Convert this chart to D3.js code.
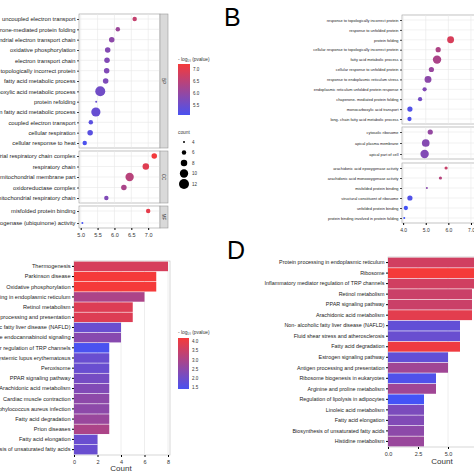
<!DOCTYPE html><html><head><meta charset="utf-8">
<script src="https://cdn.jsdelivr.net/npm/d3@7"></script>
<style>body{margin:0;background:#fff}svg{display:block;font-family:"Liberation Sans",Arial,sans-serif}</style>
</head><body><svg id="c" width="474" height="474"></svg><script>
// Panel A
const aBP=["uncoupled electron transport","chaperone-mediated protein folding","mitochondrial electron transport chain","oxidative phosphorylation","electron transport chain","response to topologically incorrect protein","fatty acid metabolic process","monocarboxylic acid metabolic process","protein refolding","long-chain fatty acid metabolic process","coupled electron transport","cellular respiration","cellular response to heat"];
const aBPv=[6.6,6.1,5.92,5.8,5.78,5.77,5.74,5.58,5.46,5.45,5.3,5.28,5.12];
const aBPn=[6,6,7,7,7,7,7,12,4,11,6,7,6];
const aCC=["mitochondrial respiratory chain complex","respiratory chain","mitochondrial membrane part","oxidoreductase complex","mitochondrial respiratory chain"];
const aCCv=[7.18,6.93,6.45,6.28,5.76];
const aCCn=[7,8,10,7,6];
const aMF=["misfolded protein binding","NADH dehydrogenase (ubiquinone) activity"];
const aMFv=[7.0,5.05];
const aMFn=[6,4];
// Panel B
const bBP=["response to topologically incorrect protein","response to unfolded protein","protein folding","cellular response to topologically incorrect protein","fatty acid metabolic process","cellular response to unfolded protein","response to endoplasmic reticulum stress","endoplasmic reticulum unfolded protein response","chaperone- mediated protein folding","monocarboxylic acid transport","long- chain fatty acid metabolic process"];
const bBPv=[7.6,7.5,6.1,5.55,5.5,5.25,5.1,4.95,4.75,4.3,4.28];
const bBPn=[8,8,8,6,10,6,8,5,5,6,5];
const bCC=["cytosolic ribosome","apical plasma membrane","apical part of cell"];
const bCCv=[5.2,5.0,4.95];
const bCCn=[6,9,10];
const bMF=["arachidonic acid epoxygenase activity","arachidonic acid monooxygenase activity","misfolded protein binding","structural constituent of ribosome","unfolded protein binding","protein binding involved in protein folding"];
const bMFv=[5.9,5.65,5.05,4.3,4.12,4.05];
const bMFn=[4,4,3,6,5,3];
// Panel C
const cCat=["Thermogenesis","Parkinson disease","Oxidative phosphorylation","Protein processing in endoplasmic reticulum","Retinol metabolism","Antigen processing and presentation","Non-alcoholic fatty liver disease (NAFLD)","Retrograde endocannabinoid signaling","Inflammatory mediator regulation of TRP channels","Systemic lupus erythematosus","Peroxisome","PPAR signaling pathway","Arachidonic acid metabolism","Cardiac muscle contraction","Staphylococcus aureus infection","Fatty acid degradation","Prion diseases","Fatty acid elongation","Biosynthesis of unsaturated fatty acids"];
const cCount=[8,7,7,6,5,5,4,4,3,3,3,3,3,3,3,3,3,2,2];
const cP=[3.7,4.2,4.2,3.0,3.8,3.8,1.9,2.4,1.4,1.9,1.9,2.1,2.3,2.5,2.5,2.7,3.0,1.9,1.9];
const cTicks=[0,2,4,6,8];
const cLeg=[4.0,3.5,3.0,2.5,2.0,1.5];
// Panel D
const dCat=["Protein processing in endoplasmic reticulum","Ribosome","Inflammatory mediator regulation of TRP channels","Retinol metabolism","PPAR signaling pathway","Arachidonic acid metabolism","Non- alcoholic fatty liver disease (NAFLD)","Fluid shear stress and atherosclerosis","Fatty acid degradation","Estrogen signaling pathway","Antigen processing and presentation","Ribosome biogenesis in eukaryotes","Arginine and proline metabolism","Regulation of lipolysis in adipocytes","Linoleic acid metabolism","Fatty acid elongation","Biosynthesis of unsaturated fatty acids","Histidine metabolism"];
const dCount=[8,8,8,7,7,7,6,6,6,5,5,4,4,3,3,3,3,3];
const dP=[3.6,4.2,3.6,3.5,3.5,3.9,1.8,1.9,4.1,1.8,2.8,1.5,2.8,1.3,2.2,2.3,2.5,2.7];
const dTicks=[0,2.5,5.0];

const svg=d3.select("#c");
const col=d3.interpolateRgb("#4a52f0","#f53a3a");

function dotPanel(g,x0,x1,panels,xs,ticks,fs){
  panels.forEach(p=>{
    const y=d3.scalePoint().domain(p.cats).range([p.y0+5, p.y1-5]);
    g.append("rect").attr("x",x0).attr("y",p.y0).attr("width",x1-x0).attr("height",p.y1-p.y0).attr("fill","#fff").attr("stroke","#999").attr("stroke-width",0.6);
    ticks.forEach(t=>g.append("line").attr("x1",xs(t)).attr("x2",xs(t)).attr("y1",p.y0).attr("y2",p.y1).attr("stroke","#e8e8e8").attr("stroke-width",0.6));
    p.cats.forEach(c=>g.append("line").attr("x1",x0).attr("x2",x1).attr("y1",y(c)).attr("y2",y(c)).attr("stroke","#e8e8e8").attr("stroke-width",0.6));
    if(p.strip){g.append("rect").attr("x",x1).attr("y",p.y0).attr("width",8).attr("height",p.y1-p.y0).attr("fill","#d9d9d9").attr("stroke","#999").attr("stroke-width",0.6);
      g.append("text").attr("transform",`translate(${x1+4},${(p.y0+p.y1)/2}) rotate(90)`).attr("text-anchor","middle").attr("dy","0.35em").attr("font-size",4.5).attr("fill","#333").text(p.strip);}
    g.append("g").attr("transform",`translate(${x0},0)`).call(d3.axisLeft(y).tickSize(2).tickPadding(1.5)).call(a=>{a.select(".domain").remove();a.selectAll("text").attr("font-size",fs).attr("fill","#222");a.selectAll("line").attr("stroke","#444")});
    p.cats.forEach((c,i)=>g.append("circle").attr("cx",xs(p.v[i])).attr("cy",y(c)).attr("r",p.r(p.n[i])).attr("fill",p.color(p.v[i])));
  });
}

const axA=d3.scaleLinear().domain([4.95,7.35]).range([79,160]);
const rA=d3.scaleSqrt().domain([4,12]).range([1,5]);
const cA=v=>col((v-5.1)/(7.2-5.1));
const gA=svg.append("g");
const aT=[5.0,5.5,6.0,6.5,7.0];
dotPanel(gA,79,160,[
 {cats:aBP,v:aBPv,n:aBPn,y0:14,y1:148,strip:"BP",r:rA,color:cA},
 {cats:aCC,v:aCCv,n:aCCn,y0:151,y1:203,strip:"CC",r:rA,color:cA},
 {cats:aMF,v:aMFv,n:aMFn,y0:206,y1:228,strip:"MF",r:rA,color:cA}],axA,aT,5.8);
gA.append("g").attr("transform","translate(0,228)").call(d3.axisBottom(axA).tickValues(aT).tickFormat(d3.format(".1f")).tickSize(2)).call(a=>{a.select(".domain").remove();a.selectAll("text").attr("font-size",5.5).attr("fill","#333")});
const defs=svg.append("defs");
const gr=defs.append("linearGradient").attr("id","gA").attr("x1",0).attr("x2",0).attr("y1",1).attr("y2",0);
d3.range(0,1.01,0.25).forEach(t=>gr.append("stop").attr("offset",t).attr("stop-color",col(t)));
svg.append("text").attr("x",178).attr("y",61).attr("font-size",4.8).attr("fill","#333").text("- log\u2081\u2080 (pvalue)");
svg.append("rect").attr("x",178).attr("y",64).attr("width",12).attr("height",51).attr("fill","url(#gA)");
const lA=d3.scaleLinear().domain([5.1,7.2]).range([115,64]);
[7.0,6.5,6.0,5.5].forEach(v=>svg.append("text").attr("x",193).attr("y",lA(v)+1.7).attr("font-size",4.5).attr("fill","#333").text(v.toFixed(1)));
svg.append("text").attr("x",178).attr("y",134).attr("font-size",4.8).attr("fill","#333").text("count");
[4,6,8,10,12].forEach((n,i)=>{svg.append("circle").attr("cx",184).attr("cy",142+i*10.5).attr("r",rA(n)).attr("fill","#000");
 svg.append("text").attr("x",192).attr("y",143.7+i*10.5).attr("font-size",4.5).attr("fill","#333").text(n)});

const axB=d3.scaleLinear().domain([3.95,7.4]).range([402,480]);
const rB=d3.scaleSqrt().domain([3,10]).range([1,4.2]);
const cB=v=>col((v-4.2)/(6.5-4.2));
const gB=svg.append("g");
dotPanel(gB,402,490,[
 {cats:bBP,v:bBPv,n:bBPn,y0:15,y1:124,r:rB,color:cB},
 {cats:bCC,v:bCCv,n:bCCn,y0:127,y1:159,r:rB,color:cB},
 {cats:bMF,v:bMFv,n:bMFn,y0:163,y1:223,r:rB,color:cB}],axB,[4,5,6,7],3.9);
gB.append("g").attr("transform","translate(0,223)").call(d3.axisBottom(axB).tickValues([4,5,6,7]).tickSize(2)).call(a=>{a.select(".domain").remove();a.selectAll("text").attr("font-size",5).attr("fill","#333")});

svg.append("text").attr("x",224).attr("y",26).attr("font-size",25).attr("fill","#000").text("B");
svg.append("text").attr("x",227).attr("y",259).attr("font-size",25).attr("fill","#000").text("D");

const cC=v=>col((v-1.4)/(4.2-1.4));
const xC=d3.scaleLinear().domain([0,8]).range([74,168]);
const yC=d3.scaleBand().domain(cCat).range([261,455]).padding(0.06);
const gC=svg.append("g");
gC.append("rect").attr("x",74).attr("y",261).attr("width",96).attr("height",194).attr("fill","#fff").attr("stroke","#bbb").attr("stroke-width",0.6);
cTicks.forEach(t=>gC.append("line").attr("x1",xC(t)).attr("x2",xC(t)).attr("y1",261).attr("y2",455).attr("stroke","#eee"));
gC.selectAll(".b").data(cCat).join("rect").attr("x",74).attr("y",d=>yC(d)).attr("width",(d,i)=>xC(cCount[i])-74).attr("height",yC.bandwidth()).attr("fill",(d,i)=>cC(cP[i]));
gC.append("g").attr("transform","translate(74,0)").call(d3.axisLeft(yC).tickSize(2).tickPadding(1.5)).call(a=>{a.select(".domain").remove();a.selectAll("text").attr("font-size",5.6).attr("fill","#222")});
gC.append("g").attr("transform","translate(0,455)").call(d3.axisBottom(xC).tickValues(cTicks).tickSize(2)).call(a=>{a.select(".domain").remove();a.selectAll("text").attr("font-size",5.5).attr("fill","#333")});
svg.append("text").attr("x",121).attr("y",471).attr("text-anchor","middle").attr("font-size",8).attr("fill","#333").text("Count");
const grC=defs.append("linearGradient").attr("id","gC").attr("x1",0).attr("x2",0).attr("y1",1).attr("y2",0);
d3.range(0,1.01,0.25).forEach(t=>grC.append("stop").attr("offset",t).attr("stop-color",col(t)));
svg.append("text").attr("x",178).attr("y",334).attr("font-size",4.8).attr("fill","#333").text("- log\u2081\u2080 (pvalue)");
svg.append("rect").attr("x",178).attr("y",338).attr("width",11).attr("height",51).attr("fill","url(#gC)");
const lC=d3.scaleLinear().domain([1.4,4.2]).range([389,338]);
cLeg.forEach(v=>svg.append("text").attr("x",192).attr("y",lC(v)+1.7).attr("font-size",4.5).attr("fill","#333").text(v.toFixed(1)));

const xD=d3.scaleLinear().domain([0,5]).range([388,448]);
const yD=d3.scaleBand().domain(dCat).range([257,447]).padding(0.06);
const gD=svg.append("g");
gD.append("rect").attr("x",388).attr("y",257).attr("width",100).attr("height",190).attr("fill","#fff").attr("stroke","#bbb").attr("stroke-width",0.6);
[0,2.5,5,7.5].forEach(t=>gD.append("line").attr("x1",xD(t)).attr("x2",xD(t)).attr("y1",257).attr("y2",447).attr("stroke","#eee"));
gD.selectAll(".b").data(dCat).join("rect").attr("x",388).attr("y",d=>yD(d)).attr("width",(d,i)=>xD(dCount[i])-388).attr("height",yD.bandwidth()).attr("fill",(d,i)=>cC(dP[i]));
gD.append("g").attr("transform","translate(388,0)").call(d3.axisLeft(yD).tickSize(2).tickPadding(1.5)).call(a=>{a.select(".domain").remove();a.selectAll("text").attr("font-size",5.4).attr("fill","#222")});
gD.append("g").attr("transform","translate(0,447)").call(d3.axisBottom(xD).tickValues(dTicks).tickFormat(d3.format(".1f")).tickSize(2)).call(a=>{a.select(".domain").remove();a.selectAll("text").attr("font-size",5.5).attr("fill","#333")});
svg.append("text").attr("x",442).attr("y",464).attr("text-anchor","middle").attr("font-size",8).attr("fill","#333").text("Count");
</script></body></html>
